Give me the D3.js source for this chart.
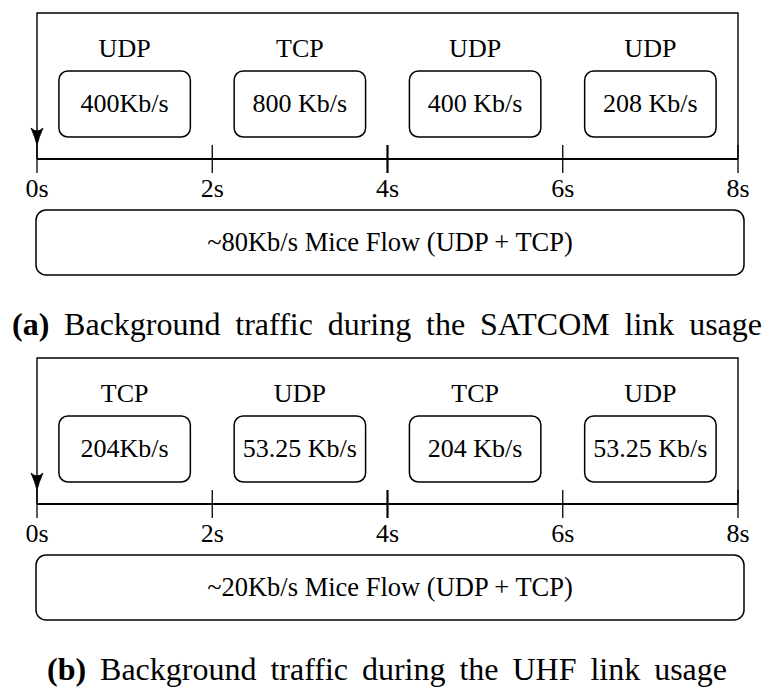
<!DOCTYPE html>
<html lang="en">
<head>
    <meta charset="utf-8">
    <script src="https://d3js.org/d3.v7.min.js"></script>
    <style>
        body { margin: 0; background: white; }
        text {
            font-family: "Liberation Serif", "Times New Roman", Times, serif;
            fill: black;
        }
        .frame, .tick, .axis, .box {
            fill: none;
            stroke: black;
        }
    </style>
</head>
<body>
<script>
    // data
    let timeTicks = [0, 2, 4, 6, 8];
    let segments = [0, 2, 4, 6];
    let protoA = ['UDP', 'TCP', 'UDP', 'UDP'];
    let rateA = ['400Kb/s', '800 Kb/s', '400 Kb/s', '208 Kb/s'];
    let protoB = ['TCP', 'UDP', 'TCP', 'UDP'];
    let rateB = ['204Kb/s', '53.25 Kb/s', '204 Kb/s', '53.25 Kb/s'];
    let miceA = '~80Kb/s Mice Flow (UDP + TCP)';
    let miceB = '~20Kb/s Mice Flow (UDP + TCP)';

    let svg = d3.select('body').append('svg')
        .attr('width', 768).attr('height', 689);

    let x = d3.scaleLinear().domain([0, 8]).range([37, 738]);

    function panel(oy, protos, rates, mice, tag, caption, capLeft, capRight) {
        let g = svg.append('g').attr('transform', 'translate(0,' + oy + ')');
        let axisY = 159;
        let x0 = x(0);

        // loop frame: from 8s up, across, down to 0s
        g.append('path').attr('class', 'frame')
            .attr('stroke-width', 1.4)
            .attr('d', 'M' + x(8) + ',' + axisY + ' V13 H' + x0 + ' V' + axisY);
        // arrow head on the left side
        g.append('path')
            .attr('d', 'M' + (x0 - 6) + ',128 Q' + (x0 - 2) + ',137 ' + x0 + ',145 Q' + (x0 + 2) + ',137 ' + (x0 + 6) + ',128 Q' + x0 + ',134 ' + (x0 - 6) + ',128 Z')
            .attr('fill', 'black').attr('stroke', 'black').attr('stroke-width', 0.8);

        // time axis
        g.append('line').attr('class', 'axis')
            .attr('x1', x(0)).attr('x2', x(8))
            .attr('y1', axisY).attr('y2', axisY)
            .attr('stroke-width', 2.2);

        g.append('g').selectAll('line')
            .data(timeTicks).enter().append('line')
            .attr('class', 'tick')
            .attr('x1', function (d) { return x(d); })
            .attr('x2', function (d) { return x(d); })
            .attr('y1', axisY - 14).attr('y2', axisY + 14)
            .attr('stroke-width', function (d) { return d === 4 ? 2.2 : 1.3; });

        g.append('g').selectAll('text')
            .data(timeTicks).enter().append('text')
            .attr('x', function (d) { return x(d); })
            .attr('y', 197)
            .attr('text-anchor', 'middle')
            .style('font-size', '26px')
            .text(function (d) { return d + 's'; });

        // flow boxes
        g.append('g').selectAll('rect')
            .data(segments).enter().append('rect')
            .attr('class', 'box')
            .attr('x', function (d) { return x(d + 0.25); })
            .attr('y', 71)
            .attr('width', function (d) { return x(d + 1.75) - x(d + 0.25); })
            .attr('height', 66)
            .attr('rx', 9)
            .attr('stroke-width', 1.5);

        g.append('g').selectAll('text')
            .data(segments).enter().append('text')
            .attr('x', function (d) { return x(d + 1); })
            .attr('y', 57)
            .attr('text-anchor', 'middle')
            .style('font-size', '26px')
            .text(function (d, i) { return protos[i]; });

        g.append('g').selectAll('text')
            .data(segments).enter().append('text')
            .attr('x', function (d) { return x(d + 1); })
            .attr('y', 112)
            .attr('text-anchor', 'middle')
            .style('font-size', '26px')
            .text(function (d, i) { return rates[i]; });

        // mice flow box
        g.append('rect').attr('class', 'box')
            .attr('x', 36).attr('y', 210)
            .attr('width', 708).attr('height', 65)
            .attr('rx', 10).attr('stroke-width', 1.5);
        g.append('text')
            .attr('x', 390).attr('y', 251)
            .attr('text-anchor', 'middle')
            .style('font-size', '26.5px')
            .text(mice);

        // caption, spread across its width like the paper
        let cap = g.append('text')
            .attr('x', capLeft).attr('y', 335)
            .style('font-size', '32px');
        cap.append('tspan').attr('font-weight', 'bold').text(tag);
        cap.append('tspan').text(' ' + caption);
        let words = (tag + ' ' + caption).split(' ').length - 1;
        let w = cap.node().getComputedTextLength();
        cap.style('word-spacing', ((capRight - capLeft - w) / words) + 'px');
    }

    panel(0, protoA, rateA, miceA, '(a)', 'Background traffic during the SATCOM link usage', 12, 762);
    panel(345, protoB, rateB, miceB, '(b)', 'Background traffic during the UHF link usage', 47, 727);
</script>
</body>
</html>
